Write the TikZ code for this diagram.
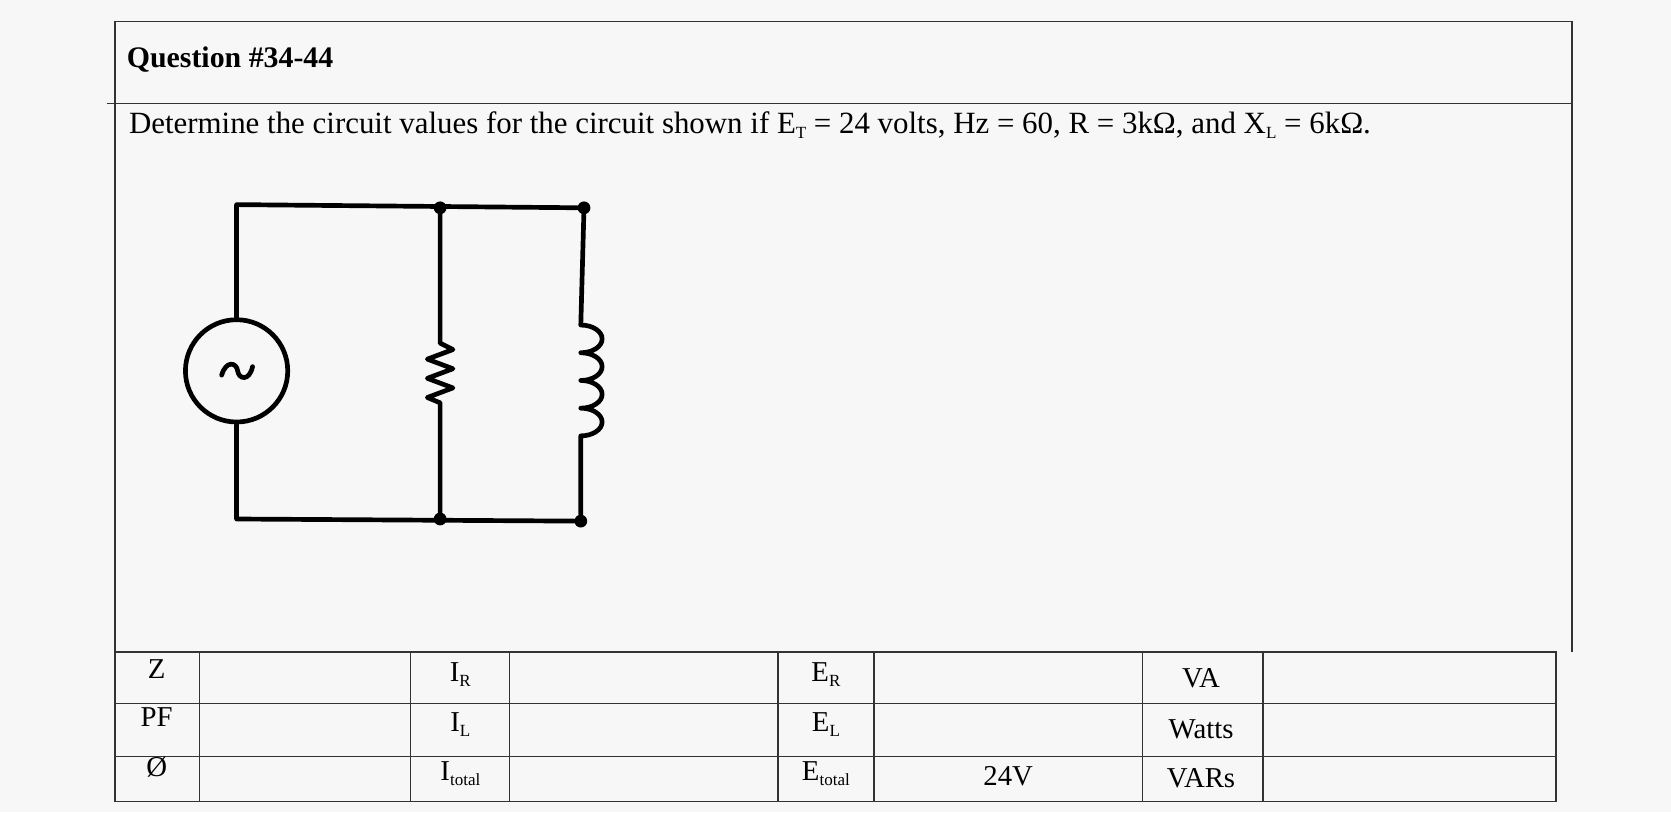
\documentclass[tikz,border=0pt]{standalone}
\usepackage{fontspec}
\setmainfont{Liberation Serif}
\newcommand{\sbs}[1]{\raisebox{-0.35ex}{\footnotesize #1}}
\begin{document}
\begin{tikzpicture}[x=0.5pt,y=-0.5pt,
  wire/.style={line width=2.2pt,line cap=round,line join=round},
  grid/.style={line width=0.7pt,draw=black!80},
  lbl/.style={font=\fontsize{13.5}{15}\selectfont,anchor=center},
  dot/.style={circle,fill=black,inner sep=0pt,minimum size=6pt}]
\fill[black!3] (0,0) rectangle (1568,762);
\useasboundingbox (0,0) rectangle (1568,762);
% frame
\draw[grid] (108,20) -- (1475,20) -- (1475,612);
\draw[grid] (108,20) -- (108,752);
\draw[grid] (100,97) -- (1475,97);
\node[anchor=west,font=\bfseries\fontsize{14}{16}\selectfont] (title) at (112,56) {Question \#34-44};
\node[anchor=west,font=\fontsize{14.5}{16}\selectfont] (q) at (114,117) {Determine the circuit values for the circuit shown if E\sbs{T} = 24 volts, Hz = 60, R = 3kΩ, and X\sbs{L} = 6kΩ.};
% circuit
\node[dot] (t1) at (413,195) {};
\node[dot] (t2) at (548,195) {};
\node[dot] (b1) at (413,487) {};
\node[dot] (b2) at (545,489) {};
\node[circle,draw,line width=2.2pt,minimum size=48pt] (src) at (222,348) {};
\draw[wire] (208,352) .. controls (212,338) and (222,340) .. (223,348) .. controls (224,356) and (234,358) .. (237,344);
\draw[wire] (src.north) -- (222,192) -- (t2);
\draw[wire] (src.south) -- (222,487) -- (b2);
\draw[wire] (t1) -- (413,322) -- (425,328) -- (401,337) -- (425,346) -- (401,355) -- (425,364) -- (401,373) -- (413,378) -- (b1);
\draw[wire] (t2) -- (545,305)
  arc[start angle=-90,end angle=90,x radius=20,y radius=13]
  arc[start angle=-90,end angle=90,x radius=20,y radius=13]
  arc[start angle=-90,end angle=90,x radius=20,y radius=13]
  arc[start angle=-90,end angle=90,x radius=20,y radius=13] -- (b2);
% table
\draw[grid] (108,612) rectangle (1460,752);
\foreach \y in {660,710} \draw[grid] (108,\y) -- (1460,\y);
\foreach \x in {187,385,478,730,820,1072,1185} \draw[grid] (\x,612) -- (\x,752);
\node[lbl] (z) at (147,628) {Z};
\node[lbl] (pf) at (147,673) {PF};
\node[lbl] (ph) at (147,720) {Ø};
\node[lbl] (ir) at (432,633) {I\sbs{R}};
\node[lbl] (il) at (432,680) {I\sbs{L}};
\node[lbl] (it) at (432,726) {I\sbs{total}};
\node[lbl] (er) at (775,633) {E\sbs{R}};
\node[lbl] (el) at (775,680) {E\sbs{L}};
\node[lbl] (et) at (775,726) {E\sbs{total}};
\node[lbl] (v24) at (946,728) {24V};
\node[lbl] (va) at (1127,636) {VA};
\node[lbl] (w) at (1127,684) {Watts};
\node[lbl] (vr) at (1127,730) {VARs};
\end{tikzpicture}
\end{document}
